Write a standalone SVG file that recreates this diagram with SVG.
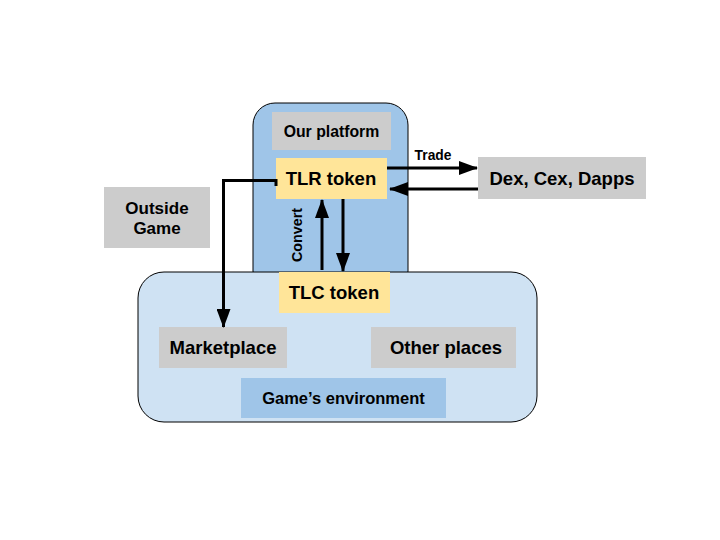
<svg xmlns="http://www.w3.org/2000/svg" width="720" height="540" viewBox="0 0 720 540">
<style>
text{font-family:"Liberation Sans",Arial,sans-serif;font-weight:bold;fill:#000;text-anchor:middle}
.lbl{font-size:18.5px}
.gray{fill:#cccccc}
.yel{fill:#ffe599}
.ln{fill:none;stroke:#000;stroke-width:3}
</style>
<defs>
<marker id="ah" markerUnits="userSpaceOnUse" markerWidth="19" markerHeight="14" refX="18" refY="7" orient="auto">
<path d="M0,0 L19,7 L0,14 Z" fill="#000"/>
</marker>
</defs>
<rect width="720" height="540" fill="#fff"/>
<g id="platform">
<rect x="253" y="103" width="155" height="190" rx="22" fill="#9fc5e8" stroke="#000" stroke-width="1"/>
</g>
<g id="game">
<rect x="138" y="272" width="399" height="150" rx="26" fill="#cfe2f3" stroke="#000" stroke-width="1"/>
</g>
<g id="our-platform">
<rect class="gray" x="272" y="112" width="119" height="38"/>
<text x="331.5" y="136.5" style="font-size:15.8px">Our platform</text>
</g>
<g id="tlr">
<rect class="yel" x="276" y="158" width="111" height="41"/>
<text class="lbl" x="331" y="185">TLR token</text>
</g>
<g id="tlc">
<rect class="yel" x="279" y="272" width="111" height="41"/>
<text class="lbl" x="334" y="299">TLC token</text>
</g>
<g id="dex">
<rect class="gray" x="478" y="157" width="168" height="42"/>
<text class="lbl" x="562" y="184.5">Dex, Cex, Dapps</text>
</g>
<g id="outside">
<rect class="gray" x="104" y="187" width="106" height="61"/>
<text x="157" y="214" style="font-size:17px">Outside</text>
<text x="157" y="234" style="font-size:17px">Game</text>
</g>
<g id="marketplace">
<rect class="gray" x="159" y="327" width="128" height="41"/>
<text class="lbl" x="223" y="354">Marketplace</text>
</g>
<g id="other">
<rect class="gray" x="371" y="327" width="145" height="41"/>
<text class="lbl" x="446" y="354">Other places</text>
</g>
<g id="game-env">
<rect x="241" y="378" width="205" height="40" fill="#9fc5e8"/>
<text x="343.5" y="403.5" style="font-size:16.5px">Game’s environment</text>
</g>
<g id="connectors">
<path class="ln" d="M387,168 L477,168" marker-end="url(#ah)"/>
<path class="ln" d="M478,189 L390,189" marker-end="url(#ah)"/>
<path class="ln" d="M276,186 L276,180.5 L223.5,180.5 L223.5,327" marker-end="url(#ah)"/>
<path class="ln" d="M322,270 L322,200" marker-end="url(#ah)"/>
<path class="ln" d="M343,199 L343,271" marker-end="url(#ah)"/>
<text x="433" y="160" style="font-size:13.8px">Trade</text>
<text transform="translate(302,235) rotate(-90)" style="font-size:14.3px">Convert</text>
</g>
</svg>
